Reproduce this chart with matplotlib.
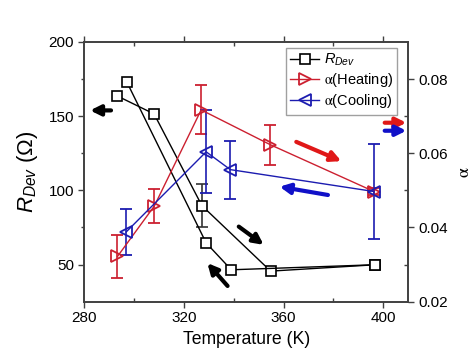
import matplotlib
matplotlib.use("Agg")
import matplotlib.pyplot as plt
from matplotlib.lines import Line2D

plt.rcParams['font.family'] = ['Liberation Sans', 'DejaVu Sans']
plt.rcParams['mathtext.fontset'] = 'custom'
plt.rcParams['mathtext.rm'] = 'Liberation Sans'
plt.rcParams['mathtext.it'] = 'Liberation Sans:italic'
plt.rcParams['mathtext.sf'] = 'STIXGeneral'

# R_Dev data (heating and cooling branches)
T_R_heat = [293, 308, 327.2, 354.8, 396.9]
R_heat = [163.8, 151.5, 89.7, 45.6, 49.9]
T_R_cool = [396.9, 339, 328.9, 297]
R_cool = [49.9, 46.5, 64.6, 173.2]
T_R_err = [327.2]
R_err_val = [89.7]
R_err = [14.5]

# alpha heating
T_heat = [293.3, 308.1, 326.9, 354.7, 396.3]
a_heat = [0.0322, 0.0458, 0.0717, 0.0623, 0.0497]
a_heat_err = [0.0059, 0.0045, 0.0066, 0.0054, 0.0010]

# alpha cooling
T_cool = [396.3, 338.6, 328.9, 296.8]
a_cool = [0.0497, 0.0556, 0.0604, 0.0388]
a_cool_err = [0.0128, 0.0078, 0.0112, 0.0063]

red = '#cc2030'
blue = '#1c1cb0'

fig = plt.figure(figsize=(4.74, 3.62), dpi=100)
ax = fig.add_axes([0.178, 0.1666, 0.683, 0.7174])
ax2 = ax.twinx()

ax.set_xlim(280, 410)
ax.set_ylim(25, 200)
ax2.set_ylim(0.02, 0.09)

# R_Dev lines
ax.errorbar(T_R_err, R_err_val, yerr=R_err, fmt='none', ecolor='#333333', elinewidth=1.2, capsize=4, capthick=1.2, zorder=2)
ax.plot(T_R_heat, R_heat, color='black', lw=1.0, marker='s', ms=7.5, mfc='white', mec='black', mew=1.2, zorder=3)
ax.plot(T_R_cool, R_cool, color='black', lw=1.0, marker='s', ms=7.5, mfc='white', mec='black', mew=1.2, zorder=3)

# alpha
ax2.errorbar(T_heat, a_heat, yerr=a_heat_err, color=red, lw=1.0, marker='>', ms=9, mfc='none', mec=red, mew=1.3,
             ecolor=red, elinewidth=1.2, capsize=4, capthick=1.2)
ax2.errorbar(T_cool, a_cool, yerr=a_cool_err, color=blue, lw=1.0, marker='<', ms=9, mfc='none', mec=blue, mew=1.3,
             ecolor=blue, elinewidth=1.2, capsize=4, capthick=1.2)

# arrows
def arrow(a, x0, y0, x1, y1, c):
    a.annotate('', xy=(x1, y1), xytext=(x0, y0), xycoords='data',
               arrowprops=dict(arrowstyle='-|>', color=c, lw=3.0, mutation_scale=15, shrinkA=0, shrinkB=0),
               annotation_clip=False, zorder=5)

arrow(ax, 290.7, 153.9, 282.3, 153.9, 'black')
arrow(ax, 342.0, 75.6, 352.0, 63.3, 'black')
arrow(ax, 337.5, 35.6, 329.4, 51.0, 'black')
arrow(ax, 365.1, 132.7, 383.2, 119.7, '#e01818')
arrow(ax, 377.8, 96.9, 358.4, 102.5, '#1010c8')
arrow(ax, 400.6, 145.6, 409.3, 145.6, '#e01818')
arrow(ax, 400.6, 140.2, 409.3, 140.2, '#1010c8')

# ticks
ax.set_xticks([280, 320, 360, 400])
ax.set_xticks([300, 340, 380], minor=True)
ax.set_yticks([50, 100, 150, 200])
ax.set_yticks([75, 125, 175], minor=True)
ax2.set_yticks([0.02, 0.04, 0.06, 0.08])
ax2.set_yticks([0.03, 0.05, 0.07], minor=True)
ax2.set_yticklabels(['0.02', '0.04', '0.06', '0.08'])

spc = '#404040'
for a in (ax, ax2):
    for s in a.spines.values():
        s.set_color(spc)
        s.set_linewidth(1.2)

ax.tick_params(axis='x', which='major', direction='out', length=4, width=1, color=spc, labelsize=11, pad=3)
ax.tick_params(axis='x', which='minor', direction='in', length=3, width=1, color=spc)
ax.tick_params(axis='y', which='major', direction='out', length=4, width=1, color=spc, labelsize=11)
ax.tick_params(axis='y', which='minor', direction='out', length=2.5, width=1, color=spc)
ax2.tick_params(axis='y', which='major', direction='out', length=4, width=1, color=spc, labelsize=11)
ax2.tick_params(axis='y', which='minor', direction='in', length=3, width=1, color=spc)
ax.xaxis.set_tick_params(which='both', top=True, labeltop=False)

ax.set_xlabel('Temperature (K)', fontsize=12.7, labelpad=4)
ax.set_ylabel(r'$R_{Dev}$ ($\Omega$)', fontsize=16, labelpad=6)
ax2.set_ylabel(r'$\mathsf{\alpha}$', fontsize=13, labelpad=6, rotation=90)

handles = [
    Line2D([], [], color='black', lw=1.0, marker='s', ms=7, mfc='white', mec='black', mew=1.2),
    Line2D([], [], color=red, lw=1.0, marker='>', ms=9, mfc='none', mec=red, mew=1.3),
    Line2D([], [], color=blue, lw=1.0, marker='<', ms=9, mfc='none', mec=blue, mew=1.3),
]
labels = [r'$R_{Dev}$', r'$\mathsf{\alpha}$(Heating)', r'$\mathsf{\alpha}$(Cooling)']
leg = ax2.legend(handles, labels, loc='upper right', bbox_to_anchor=(0.966, 0.978), borderaxespad=0,
                 fontsize=10.5, frameon=True, fancybox=False, edgecolor='#888888', handlelength=2.0,
                 handletextpad=0.3, borderpad=0.3, labelspacing=0.2)
leg.get_frame().set_linewidth(1.0)

fig.savefig('out.png', dpi=100)
